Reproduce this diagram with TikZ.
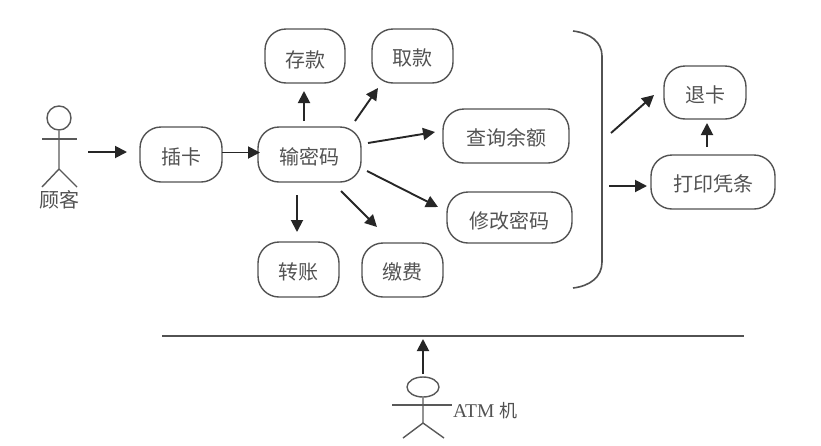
\documentclass[tikz,border=0pt]{standalone}
\usepackage{fontspec}
\setmainfont{Liberation Serif}
\newfontfamily\cjk{Noto Sans CJK SC}
\usetikzlibrary{arrows.meta,shapes.geometric}
\tikzset{
  box/.style={draw=black!68,line width=1.4pt,rounded corners=21pt,inner sep=0pt,
    text=black!68,font=\cjk\fontsize{20}{24}\selectfont},
  lbl/.style={inner sep=0pt,text=black!68,font=\fontsize{19.5}{24}\selectfont},
  arr/.style={draw=black!85,line width=1.9pt,-{Triangle[length=12pt,width=12pt]}},
  stick/.style={draw=black!65,line width=1.4pt},
  rule/.style={draw=black!68,line width=1.6pt}
}
\newcommand{\boxnode}[7]{\node[box,minimum width=#4pt,minimum height=#5pt] (#1) at (#2,#3) {\raisebox{#7pt}[15.2pt][0pt]{#6}};}
\newcommand{\conn}[4]{\draw[arr] ([shift={(#2)}]#1.center) -- ([shift={(#4)}]#3.center);}
\begin{document}
\begin{tikzpicture}[x=1pt,y=-1pt]
\useasboundingbox (0,0) rectangle (821,445);
\boxnode{dep}{305}{56}{80}{54}{存款}{-4}
\boxnode{wd}{412.5}{56}{81}{54}{取款}{-2}
\boxnode{ins}{181}{154.5}{82}{55}{插卡}{-2}
\boxnode{pwd}{309.5}{154.5}{103}{55}{输密码}{-2}
\boxnode{tr}{298.5}{269.5}{81}{55}{转账}{-2}
\boxnode{pay}{402.5}{270}{81}{54}{缴费}{-2}
\boxnode{qry}{506}{136}{126}{54}{查询余额}{-2}
\boxnode{chg}{509.5}{217.5}{125}{51}{修改密码}{-3.5}
\boxnode{ret}{705}{92.5}{82}{53}{退卡}{-2.5}
\boxnode{prn}{713}{182}{124}{54}{打印凭条}{-2}
% customer actor
\coordinate (actorA) at (59,152);
\node[draw=black!65,line width=1.4pt,circle,minimum size=24pt,inner sep=0pt] (headA) at (59,118) {};
\draw[stick] (headA.south) -- (59,169) -- (42,187);
\draw[stick] (59,169) -- (77,187);
\draw[stick] (42,139) -- (77,139);
\node[lbl,font=\cjk\fontsize{20}{24}\selectfont] (custLbl) at (59,200) {顾客};
% atm actor
\node[draw=black!65,line width=1.4pt,ellipse,minimum width=32pt,minimum height=20pt,inner sep=0pt] (headB) at (423,387) {};
\draw[stick] (headB.south) -- (423,423) -- (403,438);
\draw[stick] (423,423) -- (444,438);
\draw[stick] (392,405) -- (452,405);
\node[lbl,anchor=west] (atmLbl) at (453,411) {ATM {\cjk\fontsize{18}{24}\selectfont 机}};
% rule and bracket
\coordinate (ruleL) at (162,336);
\coordinate (ruleR) at (744,336);
\coordinate (ruleM) at (423,336);
\draw[rule] (ruleL) -- (ruleR);
\coordinate (brk) at (602,160);
\draw[rule] (573,31) .. controls (590,33) and (602,42) .. (602,56) -- (602,262) .. controls (602,277) and (590,286) .. (573,288);
% connectors
\conn{actorA}{29,0}{ins}{-54,-2.5}
\conn{ins}{41,-2}{pwd}{-49.5,-2}
\conn{pwd}{-5.5,-33.5}{dep}{-1,35}
\conn{pwd}{45.5,-33.5}{wd}{-34.5,32}
\conn{pwd}{58.5,-11.5}{qry}{-71,-4}
\conn{pwd}{57.5,16.5}{chg}{-71.5,-10.5}
\conn{pwd}{31.5,36.5}{pay}{-25.5,-43}
\conn{pwd}{-12.5,40.5}{tr}{-1.5,-37.5}
\conn{brk}{9,-27}{ret}{-51,2.5}
\conn{brk}{7,26}{prn}{-66,4}
\conn{prn}{-6,-35}{ret}{2,30.5}
\conn{headB}{0,-13}{ruleM}{0,3}
\end{tikzpicture}
\end{document}
